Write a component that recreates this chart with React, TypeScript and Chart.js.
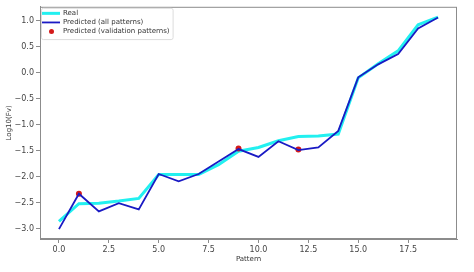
import React, { useEffect, useRef } from "react";
import { Chart, registerables } from "chart.js";

Chart.register(...registerables);

const patterns = [0, 1, 2, 3, 4, 5, 6, 7, 8, 9, 10, 11, 12, 13, 14, 15, 16, 17, 18, 19];
const realValues = [-2.86, -2.52, -2.51, -2.47, -2.42, -1.96, -1.96, -1.96, -1.77, -1.51, -1.44, -1.31, -1.23, -1.22, -1.18, -0.1, 0.17, 0.42, 0.92, 1.07];
const predictedValues = [-3.01, -2.33, -2.67, -2.51, -2.63, -1.95, -2.09, -1.95, -1.71, -1.47, -1.62, -1.32, -1.49, -1.44, -1.12, -0.09, 0.16, 0.36, 0.85, 1.06];
const validationPatterns = [1, 9, 12];
const validationValues = [-2.33, -1.46, -1.48];
const xTicks = [0, 2.5, 5, 7.5, 10, 12.5, 15, 17.5];
const yTicks = [-3, -2.5, -2, -1.5, -1, -0.5, 0, 0.5, 1];
const seriesLabels = ["Real", "Predicted (all patterns)", "Predicted (validation patterns)"];

const FONT = "'DejaVu Sans', sans-serif";

const framePlugin = {
  id: "frameAndLegend",
  afterDraw(chart: any) {
    const { ctx, chartArea } = chart;
    ctx.save();
    ctx.strokeStyle = "#8c8c8c";
    ctx.lineWidth = 1;
    ctx.strokeRect(chartArea.left + 0.5, chartArea.top + 0.5, chartArea.right - chartArea.left - 1, chartArea.bottom - chartArea.top - 1);

    // legend
    const lx = chartArea.left + 1;
    const ly = chartArea.top + 1;
    const rowH = 9.1;
    ctx.font = `7px ${FONT}`;
    const widths = chart.data.datasets.map((d: any) => ctx.measureText(d.label).width);
    const boxW = 22 + Math.max(...widths) + 3;
    const boxH = rowH * chart.data.datasets.length + 4;
    ctx.fillStyle = "rgba(255,255,255,0.85)";
    ctx.strokeStyle = "#dcdcdc";
    ctx.beginPath();
    ctx.roundRect(lx + 0.5, ly + 0.5, boxW, boxH, 2);
    ctx.fill();
    ctx.stroke();
    chart.data.datasets.forEach((d: any, i: number) => {
      const cy = ly + 1 + rowH * i + rowH / 2;
      if (d.showLine === false) {
        ctx.fillStyle = d.pointBackgroundColor;
        ctx.beginPath();
        ctx.arc(lx + 10.5, cy, 2.5, 0, Math.PI * 2);
        ctx.fill();
      } else {
        ctx.strokeStyle = d.borderColor;
        ctx.lineWidth = d.borderWidth;
        ctx.beginPath();
        ctx.moveTo(lx + 1, cy);
        ctx.lineTo(lx + 19, cy);
        ctx.stroke();
      }
      ctx.fillStyle = "#333";
      ctx.textBaseline = "middle";
      ctx.textAlign = "left";
      ctx.fillText(d.label, lx + 22, cy);
    });
    ctx.restore();
  },
};

export default function App() {
  const ref = useRef<HTMLCanvasElement>(null);
  useEffect(() => {
    const canvas = ref.current!;
    const chart = new Chart(canvas, {
      type: "line",
      data: {
        datasets: [
          {
            label: seriesLabels[0],
            data: patterns.map((x, i) => ({ x, y: realValues[i] })),
            borderColor: "#22f0f0",
            borderWidth: 3,
            pointRadius: 0,
            order: 3,
          },
          {
            label: seriesLabels[1],
            data: patterns.map((x, i) => ({ x, y: predictedValues[i] })),
            borderColor: "#1a1ac4",
            borderWidth: 1.8,
            pointRadius: 0,
            order: 1,
          },
          {
            label: seriesLabels[2],
            data: validationPatterns.map((x, i) => ({ x, y: validationValues[i] })),
            showLine: false,
            pointRadius: 3,
            pointBackgroundColor: "#d41a1a",
            pointBorderWidth: 0,
            borderColor: "#d41a1a",
            order: 2,
          },
        ] as any,
      },
      options: {
        animation: false,
        responsive: false,
        layout: { padding: { left: 0, top: 5, right: 17, bottom: 0 } },
        plugins: { legend: { display: false }, tooltip: { enabled: false } },
        scales: {
          x: {
            type: "linear",
            min: -0.95,
            max: 19.95,
            afterBuildTicks: (s: any) => { s.ticks = xTicks.map((v) => ({ value: v })); },
            afterFit: (s: any) => { s.height = 33; },
            ticks: {
              font: { family: FONT, size: 8 },
              color: "#444",
              padding: 2,
              maxRotation: 0,
              callback: (v: any) => Number(v).toFixed(1),
            },
            grid: { drawOnChartArea: false, tickLength: 4, color: "#8c8c8c" },
            border: { color: "#8c8c8c" },
            title: { display: true, text: "Pattern", font: { family: FONT, size: 7 }, color: "#333", padding: { top: 0, bottom: 9 } },
          },
          y: {
            type: "linear",
            min: -3.2,
            max: 1.267,
            afterBuildTicks: (s: any) => { s.ticks = yTicks.map((v) => ({ value: v })); },
            afterFit: (s: any) => { s.width = 40; },
            ticks: {
              font: { family: FONT, size: 8 },
              color: "#444",
              padding: 2,
              callback: (v: any) => (Number(v) < 0 ? "\u2212" + Math.abs(Number(v)).toFixed(1) : Number(v).toFixed(1)),
            },
            grid: { drawOnChartArea: false, tickLength: 4, color: "#8c8c8c" },
            border: { color: "#8c8c8c" },
            title: { display: true, text: "Log10(Fv)", font: { family: FONT, size: 7 }, color: "#333", padding: { top: 5, bottom: 0 } },
          },
        },
      },
      plugins: [framePlugin],
    });
    return () => chart.destroy();
  }, []);
  return (
    <div style={{ position: "fixed", left: 0, top: 0, width: 474, height: 272, background: "#fff" }}>
      <canvas ref={ref} width={474} height={272} style={{ width: 474, height: 272 }} />
    </div>
  );
}
